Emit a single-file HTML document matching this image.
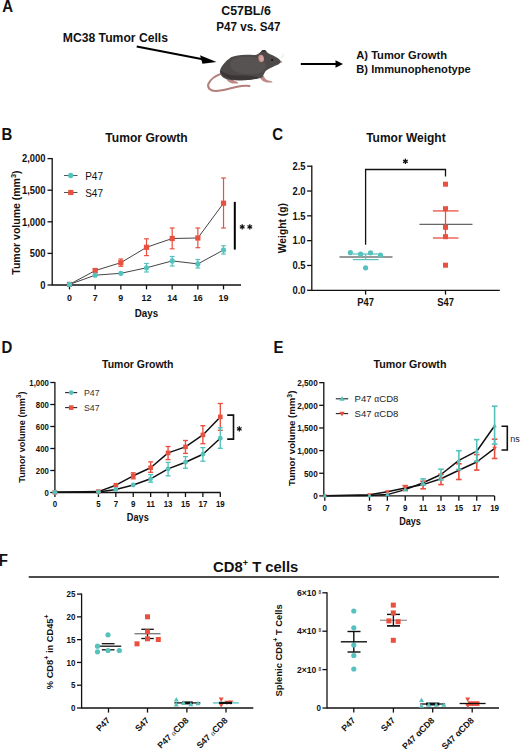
<!DOCTYPE html>
<html><head><meta charset="utf-8"><style>
html,body{margin:0;padding:0;background:#fff;overflow:hidden;width:520px;height:749px;}
svg{display:block;font-family:"Liberation Sans", sans-serif;}
text:not([font-weight]){font-weight:bold;}
text:not([fill]){fill:#111;}
line:not([stroke]){stroke:#111;}
line:not([stroke-width]){stroke-width:1.3;}
</style></head><body>
<svg width="520" height="749" viewBox="0 0 520 749">
<rect width="520" height="749" fill="#fff"/>
<text transform="translate(2.30,11.90) scale(1,1.1)" font-size="15">A</text>
<text x="62.80" y="42.30" font-size="12" textLength="105.2" lengthAdjust="spacingAndGlyphs">MC38 Tumor Cells</text>
<text x="221.20" y="15.40" font-size="12" textLength="49.6" lengthAdjust="spacingAndGlyphs">C57BL/6</text>
<text x="216.30" y="31.30" font-size="12" textLength="64.1" lengthAdjust="spacingAndGlyphs">P47 vs. S47</text>
<text x="356.30" y="58.70" font-size="10.5" textLength="90.7" lengthAdjust="spacingAndGlyphs">A) Tumor Growth</text>
<text x="356.30" y="73.00" font-size="10.5" textLength="114.5" lengthAdjust="spacingAndGlyphs">B) Immunophenotype</text>
<line x1="136.7" y1="46.5" x2="204" y2="59.5" stroke="#000" stroke-width="2.0"/>
<polygon points="216.5,62 200,55.2 202.5,63.8" fill="#000"/>
<line x1="300.8" y1="64" x2="337" y2="64" stroke="#000" stroke-width="2.0"/>
<polygon points="343,64 335.5,60.3 335.5,67.7" fill="#000"/>
<g>
<path d="M221.5,73.6 C216,75.5 210.5,79 208.3,84 C207.2,88 210.5,90.8 215.5,90.9 C222,91 230,88.3 236,87 C241,86 246,85.6 249.5,86" fill="none" stroke="#b47f79" stroke-width="2" stroke-linecap="round"/>
<path d="M225.5,77 C226.5,81 230,83.3 234,83.6 L238.3,83.6 C238.2,82.2 236.5,81.2 234.5,81 L232,78.5 Z" fill="#c08a84"/>
<path d="M259.5,76.5 C261,80.5 264,82.2 268,82.6 L272.6,82.6 C272.3,81.2 270.5,80.5 268.3,80.4 C265.8,80 264.3,78 263.8,75.8 Z" fill="#c08a84"/>
<path d="M219.8,71.5 C220.5,67 225,61.5 231,57.3 C236,55 243,54.2 254,55 C257,55.2 259,53.5 261,51.5 C262.5,49.6 265.5,49.6 266.4,51.6 C268,53.6 272,55 275,56.5 C278,58 280.5,60 281.3,62 C280,63.6 278,64.8 275.6,65.6 C272.5,67 268.5,69 266,70.8 C264.5,72.2 263.8,75 262.1,77.5 C258,79 252,79.6 245,80.2 C237,80.8 229,80.4 224.3,78.2 C221.6,76.7 220,74.3 219.8,71.5 Z" fill="#4d4949"/>
<path d="M261.2,51.6 C262.5,49.5 265.5,49.6 266.4,51.6 C265,52.4 263,52.6 261.2,51.6 Z" fill="#3a3636"/>
<path d="M232,60 C238,56.5 248,56 256,57.5 C262,58.8 266,62 266,66 C265.5,70 262,73 256,74 C249,74.8 240,74 234.5,71 C230,68 229,63 232,60 Z" fill="#575352"/>
<path d="M221,73 C224,77.5 230,79.6 238,80 C246,80.4 254,79.6 259,77.8 C255,76.2 249,75.5 241,75.6 C233,75.6 226,75 221,70.5 Z" fill="#3b3737"/>
<ellipse cx="261.2" cy="58.4" rx="2.8" ry="3.7" fill="#c88f8c" transform="rotate(-12 261.2 58.4)"/>
<ellipse cx="261.6" cy="58.6" rx="1.7" ry="2.6" fill="#d6a19e" transform="rotate(-12 261.6 58.6)"/>
<circle cx="272.1" cy="60" r="1" fill="#111"/>
<circle cx="281.3" cy="62" r="0.9" fill="#d99a98"/>
<path d="M280.5,58 L284,53.5 M281,58.5 L284.5,55.5" stroke="#ddd" stroke-width="0.5"/>
</g>
<text transform="translate(1.60,140.10) scale(1,1.1)" font-size="15">B</text>
<text transform="translate(146.50,141.90) scale(1,1.1)" font-size="12.1" text-anchor="middle">Tumor Growth</text>
<line x1="52.2" y1="158" x2="52.2" y2="285.6"/>
<line x1="47.5" y1="158.6" x2="52.2" y2="158.6"/>
<text transform="translate(45.50,162.32) scale(1,1.1)" font-size="9.4" text-anchor="end">2,000</text>
<line x1="47.5" y1="190.2" x2="52.2" y2="190.2"/>
<text transform="translate(45.50,193.92) scale(1,1.1)" font-size="9.4" text-anchor="end">1,500</text>
<line x1="47.5" y1="221.8" x2="52.2" y2="221.8"/>
<text transform="translate(45.50,225.52) scale(1,1.1)" font-size="9.4" text-anchor="end">1,000</text>
<line x1="47.5" y1="253.4" x2="52.2" y2="253.4"/>
<text transform="translate(45.50,257.12) scale(1,1.1)" font-size="9.4" text-anchor="end">500</text>
<line x1="47.5" y1="285" x2="52.2" y2="285"/>
<text transform="translate(45.50,288.72) scale(1,1.1)" font-size="9.4" text-anchor="end">0</text>
<line x1="52.2" y1="285" x2="241" y2="285"/>
<line x1="69.5" y1="285" x2="69.5" y2="289.4"/>
<text transform="translate(69.50,300.90) scale(1,1.1)" font-size="8.9" text-anchor="middle">0</text>
<line x1="95.17" y1="285" x2="95.17" y2="289.4"/>
<text transform="translate(95.17,300.90) scale(1,1.1)" font-size="8.9" text-anchor="middle">7</text>
<line x1="120.84" y1="285" x2="120.84" y2="289.4"/>
<text transform="translate(120.84,300.90) scale(1,1.1)" font-size="8.9" text-anchor="middle">9</text>
<line x1="146.51" y1="285" x2="146.51" y2="289.4"/>
<text transform="translate(146.51,300.90) scale(1,1.1)" font-size="8.9" text-anchor="middle">12</text>
<line x1="172.18" y1="285" x2="172.18" y2="289.4"/>
<text transform="translate(172.18,300.90) scale(1,1.1)" font-size="8.9" text-anchor="middle">14</text>
<line x1="197.85" y1="285" x2="197.85" y2="289.4"/>
<text transform="translate(197.85,300.90) scale(1,1.1)" font-size="8.9" text-anchor="middle">16</text>
<line x1="223.52" y1="285" x2="223.52" y2="289.4"/>
<text transform="translate(223.52,300.90) scale(1,1.1)" font-size="8.9" text-anchor="middle">19</text>
<text transform="translate(146.50,316.50) scale(1,1.1)" font-size="9.8" text-anchor="middle">Days</text>
<text transform="translate(20.2,222.6) rotate(-90)" font-size="10.5" font-weight="bold" text-anchor="middle" fill="#111">Tumor volume (mm<tspan font-size="7.4" dy="-4">3</tspan><tspan dy="4">)</tspan></text>
<line x1="64" y1="175.5" x2="77.5" y2="175.5" stroke="#555" stroke-width="1"/>
<circle cx="70.70" cy="175.50" r="2.65" fill="#55c2bd"/>
<line x1="64" y1="192.5" x2="77.5" y2="192.5" stroke="#555" stroke-width="1"/>
<rect x="68.20" y="189.90" width="5.2" height="5.2" fill="#e9503f"/>
<text transform="translate(85.20,179.50) scale(1,1.1)" font-size="10" font-weight="normal">P47</text>
<text transform="translate(85.20,196.50) scale(1,1.1)" font-size="10" font-weight="normal">S47</text>
<polyline points="69.50,284.40 95.17,270.60 120.84,262.70 146.51,247.30 172.18,238.50 197.85,238.00 223.52,203.20" fill="none" stroke="#444" stroke-width="1" stroke-linejoin="round"/>
<polyline points="69.50,284.40 95.17,275.20 120.84,273.30 146.51,267.80 172.18,260.90 197.85,263.90 223.52,250.00" fill="none" stroke="#444" stroke-width="1" stroke-linejoin="round"/>
<rect x="66.90" y="281.80" width="5.2" height="5.2" fill="#e9503f"/>
<line x1="95.17" y1="268.5" x2="95.17" y2="272.5" stroke="#e9503f" stroke-width="1.2"/>
<line x1="92.77" y1="268.5" x2="97.57" y2="268.5" stroke="#e9503f" stroke-width="1.2"/>
<line x1="92.77" y1="272.5" x2="97.57" y2="272.5" stroke="#e9503f" stroke-width="1.2"/>
<rect x="92.57" y="268.00" width="5.2" height="5.2" fill="#e9503f"/>
<line x1="120.84" y1="259" x2="120.84" y2="266.3" stroke="#e9503f" stroke-width="1.2"/>
<line x1="118.44" y1="259" x2="123.24" y2="259" stroke="#e9503f" stroke-width="1.2"/>
<line x1="118.44" y1="266.3" x2="123.24" y2="266.3" stroke="#e9503f" stroke-width="1.2"/>
<rect x="118.24" y="260.10" width="5.2" height="5.2" fill="#e9503f"/>
<line x1="146.51" y1="238.8" x2="146.51" y2="255.6" stroke="#e9503f" stroke-width="1.2"/>
<line x1="144.11" y1="238.8" x2="148.91" y2="238.8" stroke="#e9503f" stroke-width="1.2"/>
<line x1="144.11" y1="255.6" x2="148.91" y2="255.6" stroke="#e9503f" stroke-width="1.2"/>
<rect x="143.91" y="244.70" width="5.2" height="5.2" fill="#e9503f"/>
<line x1="172.18" y1="228" x2="172.18" y2="248.8" stroke="#e9503f" stroke-width="1.2"/>
<line x1="169.78" y1="228" x2="174.58" y2="228" stroke="#e9503f" stroke-width="1.2"/>
<line x1="169.78" y1="248.8" x2="174.58" y2="248.8" stroke="#e9503f" stroke-width="1.2"/>
<rect x="169.58" y="235.90" width="5.2" height="5.2" fill="#e9503f"/>
<line x1="197.85" y1="228" x2="197.85" y2="247.7" stroke="#e9503f" stroke-width="1.2"/>
<line x1="195.45" y1="228" x2="200.25" y2="228" stroke="#e9503f" stroke-width="1.2"/>
<line x1="195.45" y1="247.7" x2="200.25" y2="247.7" stroke="#e9503f" stroke-width="1.2"/>
<rect x="195.25" y="235.40" width="5.2" height="5.2" fill="#e9503f"/>
<line x1="223.52" y1="178" x2="223.52" y2="228" stroke="#e9503f" stroke-width="1.2"/>
<line x1="221.12" y1="178" x2="225.92" y2="178" stroke="#e9503f" stroke-width="1.2"/>
<line x1="221.12" y1="228" x2="225.92" y2="228" stroke="#e9503f" stroke-width="1.2"/>
<rect x="220.92" y="200.60" width="5.2" height="5.2" fill="#e9503f"/>
<circle cx="69.50" cy="284.40" r="2.6" fill="#55c2bd"/>
<circle cx="95.17" cy="275.20" r="2.6" fill="#55c2bd"/>
<circle cx="120.84" cy="273.30" r="2.6" fill="#55c2bd"/>
<line x1="146.51" y1="263.5" x2="146.51" y2="272" stroke="#55c2bd" stroke-width="1.2"/>
<line x1="144.11" y1="263.5" x2="148.91" y2="263.5" stroke="#55c2bd" stroke-width="1.2"/>
<line x1="144.11" y1="272" x2="148.91" y2="272" stroke="#55c2bd" stroke-width="1.2"/>
<circle cx="146.51" cy="267.80" r="2.6" fill="#55c2bd"/>
<line x1="172.18" y1="256.5" x2="172.18" y2="266" stroke="#55c2bd" stroke-width="1.2"/>
<line x1="169.78" y1="256.5" x2="174.58" y2="256.5" stroke="#55c2bd" stroke-width="1.2"/>
<line x1="169.78" y1="266" x2="174.58" y2="266" stroke="#55c2bd" stroke-width="1.2"/>
<circle cx="172.18" cy="260.90" r="2.6" fill="#55c2bd"/>
<line x1="197.85" y1="259.5" x2="197.85" y2="268" stroke="#55c2bd" stroke-width="1.2"/>
<line x1="195.45" y1="259.5" x2="200.25" y2="259.5" stroke="#55c2bd" stroke-width="1.2"/>
<line x1="195.45" y1="268" x2="200.25" y2="268" stroke="#55c2bd" stroke-width="1.2"/>
<circle cx="197.85" cy="263.90" r="2.6" fill="#55c2bd"/>
<line x1="223.52" y1="245.8" x2="223.52" y2="254" stroke="#55c2bd" stroke-width="1.2"/>
<line x1="221.12" y1="245.8" x2="225.92" y2="245.8" stroke="#55c2bd" stroke-width="1.2"/>
<line x1="221.12" y1="254" x2="225.92" y2="254" stroke="#55c2bd" stroke-width="1.2"/>
<circle cx="223.52" cy="250.00" r="2.6" fill="#55c2bd"/>
<line x1="234.8" y1="201.9" x2="234.8" y2="249.6" stroke="#000" stroke-width="2.0"/>
<line x1="242.2" y1="224.2" x2="242.2" y2="229.6"/>
<line x1="239.86" y1="225.55" x2="244.54" y2="228.25"/>
<line x1="244.54" y1="225.55" x2="239.86" y2="228.25"/>
<line x1="249.8" y1="224.2" x2="249.8" y2="229.6"/>
<line x1="247.46" y1="225.55" x2="252.14" y2="228.25"/>
<line x1="252.14" y1="225.55" x2="247.46" y2="228.25"/>
<text transform="translate(272.30,139.60) scale(1,1.1)" font-size="15">C</text>
<text transform="translate(405.90,141.90) scale(1,1.1)" font-size="12" text-anchor="middle">Tumor Weight</text>
<line x1="311.8" y1="165.6" x2="311.8" y2="290.9"/>
<line x1="307.1" y1="166.2" x2="311.8" y2="166.2"/>
<text transform="translate(305.50,169.92) scale(1,1.1)" font-size="9.4" text-anchor="end">2.5</text>
<line x1="307.1" y1="191.02" x2="311.8" y2="191.02"/>
<text transform="translate(305.50,194.74) scale(1,1.1)" font-size="9.4" text-anchor="end">2.0</text>
<line x1="307.1" y1="215.84" x2="311.8" y2="215.84"/>
<text transform="translate(305.50,219.56) scale(1,1.1)" font-size="9.4" text-anchor="end">1.5</text>
<line x1="307.1" y1="240.66" x2="311.8" y2="240.66"/>
<text transform="translate(305.50,244.38) scale(1,1.1)" font-size="9.4" text-anchor="end">1.0</text>
<line x1="307.1" y1="265.48" x2="311.8" y2="265.48"/>
<text transform="translate(305.50,269.20) scale(1,1.1)" font-size="9.4" text-anchor="end">0.5</text>
<line x1="307.1" y1="290.3" x2="311.8" y2="290.3"/>
<text transform="translate(305.50,294.02) scale(1,1.1)" font-size="9.4" text-anchor="end">0.0</text>
<line x1="311.8" y1="290.3" x2="499.8" y2="290.3"/>
<line x1="365.6" y1="290.3" x2="365.6" y2="294.6"/>
<text transform="translate(365.60,305.80) scale(1,1.1)" font-size="9.4" text-anchor="middle">P47</text>
<line x1="445.5" y1="290.3" x2="445.5" y2="294.6"/>
<text transform="translate(445.50,305.80) scale(1,1.1)" font-size="9.4" text-anchor="middle">S47</text>
<text transform="translate(286.1,228.1) rotate(-90)" font-size="10.3" font-weight="bold" text-anchor="middle" fill="#111">Weight (g)</text>
<polyline points="365.6,244.8 365.6,169.5 445.5,169.5 445.5,176.4" fill="none" stroke="#111" stroke-width="1.3"/>
<line x1="405.4" y1="158.6" x2="405.4" y2="164"/>
<line x1="403.06" y1="159.95" x2="407.74" y2="162.65"/>
<line x1="407.74" y1="159.95" x2="403.06" y2="162.65"/>
<line x1="339.5" y1="257" x2="392.5" y2="257" stroke="#777"/>
<line x1="353" y1="254" x2="378.5" y2="254" stroke="#55c2bd" stroke-width="1.2"/>
<line x1="353" y1="259.6" x2="378.5" y2="259.6" stroke="#55c2bd" stroke-width="1.2"/>
<line x1="365.6" y1="254" x2="365.6" y2="259.6" stroke="#55c2bd" stroke-width="1.2"/>
<circle cx="350.40" cy="252.70" r="2.6" fill="#55c2bd"/>
<circle cx="360.60" cy="254.20" r="2.6" fill="#55c2bd"/>
<circle cx="370.50" cy="252.90" r="2.6" fill="#55c2bd"/>
<circle cx="380.50" cy="255.20" r="2.6" fill="#55c2bd"/>
<circle cx="365.60" cy="267.80" r="2.6" fill="#55c2bd"/>
<line x1="419.4" y1="224.3" x2="472.5" y2="224.3" stroke="#666"/>
<line x1="432.9" y1="210.9" x2="458.5" y2="210.9" stroke="#e9503f"/>
<line x1="432.9" y1="238" x2="458.5" y2="238" stroke="#e9503f"/>
<line x1="445.5" y1="210.9" x2="445.5" y2="238" stroke="#e9503f"/>
<rect x="443.00" y="181.70" width="5" height="5" fill="#e9503f"/>
<rect x="443.00" y="206.20" width="5" height="5" fill="#e9503f"/>
<rect x="443.00" y="224.80" width="5" height="5" fill="#e9503f"/>
<rect x="443.00" y="234.20" width="5" height="5" fill="#e9503f"/>
<rect x="443.00" y="262.70" width="5" height="5" fill="#e9503f"/>
<text transform="translate(1.60,353.00) scale(1,1.1)" font-size="15">D</text>
<text transform="translate(137.80,368.00) scale(1,1.1)" font-size="10.5" text-anchor="middle">Tumor Growth</text>
<line x1="54.9" y1="381.9" x2="54.9" y2="493.1"/>
<line x1="50.3" y1="382.5" x2="54.9" y2="382.5"/>
<text transform="translate(48.80,385.59) scale(1,1.1)" font-size="7.8" text-anchor="end">1,000</text>
<line x1="50.3" y1="404.5" x2="54.9" y2="404.5"/>
<text transform="translate(48.80,407.59) scale(1,1.1)" font-size="7.8" text-anchor="end">800</text>
<line x1="50.3" y1="426.5" x2="54.9" y2="426.5"/>
<text transform="translate(48.80,429.59) scale(1,1.1)" font-size="7.8" text-anchor="end">600</text>
<line x1="50.3" y1="448.5" x2="54.9" y2="448.5"/>
<text transform="translate(48.80,451.59) scale(1,1.1)" font-size="7.8" text-anchor="end">400</text>
<line x1="50.3" y1="470.5" x2="54.9" y2="470.5"/>
<text transform="translate(48.80,473.59) scale(1,1.1)" font-size="7.8" text-anchor="end">200</text>
<line x1="50.3" y1="492.5" x2="54.9" y2="492.5"/>
<text transform="translate(48.80,495.59) scale(1,1.1)" font-size="7.8" text-anchor="end">0</text>
<line x1="54.9" y1="492.5" x2="220.5" y2="492.5"/>
<line x1="54.9" y1="492.5" x2="54.9" y2="497"/>
<text transform="translate(54.90,506.70) scale(1,1.1)" font-size="7.9" text-anchor="middle">0</text>
<line x1="98.42" y1="492.5" x2="98.42" y2="497"/>
<text transform="translate(98.42,506.70) scale(1,1.1)" font-size="7.9" text-anchor="middle">5</text>
<line x1="115.84" y1="492.5" x2="115.84" y2="497"/>
<text transform="translate(115.84,506.70) scale(1,1.1)" font-size="7.9" text-anchor="middle">7</text>
<line x1="133.25" y1="492.5" x2="133.25" y2="497"/>
<text transform="translate(133.25,506.70) scale(1,1.1)" font-size="7.9" text-anchor="middle">9</text>
<line x1="150.66" y1="492.5" x2="150.66" y2="497"/>
<text transform="translate(150.66,506.70) scale(1,1.1)" font-size="7.9" text-anchor="middle">11</text>
<line x1="168.06" y1="492.5" x2="168.06" y2="497"/>
<text transform="translate(168.06,506.70) scale(1,1.1)" font-size="7.9" text-anchor="middle">13</text>
<line x1="185.47" y1="492.5" x2="185.47" y2="497"/>
<text transform="translate(185.47,506.70) scale(1,1.1)" font-size="7.9" text-anchor="middle">15</text>
<line x1="202.89" y1="492.5" x2="202.89" y2="497"/>
<text transform="translate(202.89,506.70) scale(1,1.1)" font-size="7.9" text-anchor="middle">17</text>
<line x1="220.3" y1="492.5" x2="220.3" y2="497"/>
<text transform="translate(220.30,506.70) scale(1,1.1)" font-size="7.9" text-anchor="middle">19</text>
<text transform="translate(137.80,520.80) scale(1,1.1)" font-size="9.2" text-anchor="middle">Days</text>
<text transform="translate(25.0,437.1) rotate(-90)" font-size="9.2" font-weight="bold" text-anchor="middle" fill="#111">Tumor volume (mm<tspan font-size="6.6" dy="-3.6">3</tspan><tspan dy="3.6">)</tspan></text>
<line x1="65.1" y1="392.6" x2="77.2" y2="392.6" stroke="#222" stroke-width="1.1"/>
<circle cx="71.20" cy="392.60" r="2.4" fill="#55c2bd"/>
<line x1="65.1" y1="407.6" x2="77.2" y2="407.6" stroke="#222" stroke-width="1.1"/>
<rect x="68.90" y="405.30" width="4.6" height="4.6" fill="#e9503f"/>
<text transform="translate(83.90,395.80) scale(1,1.1)" font-size="8.8" font-weight="normal" fill="#333">P47</text>
<text transform="translate(83.90,410.80) scale(1,1.1)" font-size="8.8" font-weight="normal" fill="#333">S47</text>
<polyline points="54.90,492.30 98.42,491.60 115.84,485.20 133.25,475.80 150.66,467.70 168.06,452.90 185.47,446.90 202.89,434.90 220.30,416.90" fill="none" stroke="#111" stroke-width="1.5" stroke-linejoin="round"/>
<polyline points="54.90,492.30 98.42,492.00 115.84,489.40 133.25,485.00 150.66,478.80 168.06,468.90 185.47,462.20 202.89,454.30 220.30,438.20" fill="none" stroke="#111" stroke-width="1.5" stroke-linejoin="round"/>
<rect x="52.60" y="490.00" width="4.6" height="4.6" fill="#e9503f"/>
<rect x="96.12" y="489.30" width="4.6" height="4.6" fill="#e9503f"/>
<rect x="113.54" y="482.90" width="4.6" height="4.6" fill="#e9503f"/>
<line x1="133.25" y1="472.8" x2="133.25" y2="478.8" stroke="#e9503f" stroke-width="1.35"/>
<line x1="130.75" y1="472.8" x2="135.75" y2="472.8" stroke="#e9503f" stroke-width="1.35"/>
<line x1="130.75" y1="478.8" x2="135.75" y2="478.8" stroke="#e9503f" stroke-width="1.35"/>
<rect x="130.94" y="473.50" width="4.6" height="4.6" fill="#e9503f"/>
<line x1="150.66" y1="461.9" x2="150.66" y2="472.3" stroke="#e9503f" stroke-width="1.35"/>
<line x1="148.16" y1="461.9" x2="153.16" y2="461.9" stroke="#e9503f" stroke-width="1.35"/>
<line x1="148.16" y1="472.3" x2="153.16" y2="472.3" stroke="#e9503f" stroke-width="1.35"/>
<rect x="148.35" y="465.40" width="4.6" height="4.6" fill="#e9503f"/>
<line x1="168.06" y1="446.5" x2="168.06" y2="459.6" stroke="#e9503f" stroke-width="1.35"/>
<line x1="165.56" y1="446.5" x2="170.56" y2="446.5" stroke="#e9503f" stroke-width="1.35"/>
<line x1="165.56" y1="459.6" x2="170.56" y2="459.6" stroke="#e9503f" stroke-width="1.35"/>
<rect x="165.76" y="450.60" width="4.6" height="4.6" fill="#e9503f"/>
<line x1="185.47" y1="440.5" x2="185.47" y2="453.4" stroke="#e9503f" stroke-width="1.35"/>
<line x1="182.97" y1="440.5" x2="187.97" y2="440.5" stroke="#e9503f" stroke-width="1.35"/>
<line x1="182.97" y1="453.4" x2="187.97" y2="453.4" stroke="#e9503f" stroke-width="1.35"/>
<rect x="183.17" y="444.60" width="4.6" height="4.6" fill="#e9503f"/>
<line x1="202.89" y1="425.7" x2="202.89" y2="443.7" stroke="#e9503f" stroke-width="1.35"/>
<line x1="200.39" y1="425.7" x2="205.39" y2="425.7" stroke="#e9503f" stroke-width="1.35"/>
<line x1="200.39" y1="443.7" x2="205.39" y2="443.7" stroke="#e9503f" stroke-width="1.35"/>
<rect x="200.59" y="432.60" width="4.6" height="4.6" fill="#e9503f"/>
<line x1="220.3" y1="403.5" x2="220.3" y2="430.3" stroke="#e9503f" stroke-width="1.35"/>
<line x1="217.8" y1="403.5" x2="222.8" y2="403.5" stroke="#e9503f" stroke-width="1.35"/>
<line x1="217.8" y1="430.3" x2="222.8" y2="430.3" stroke="#e9503f" stroke-width="1.35"/>
<rect x="218.00" y="414.60" width="4.6" height="4.6" fill="#e9503f"/>
<circle cx="54.90" cy="492.30" r="2.4" fill="#55c2bd"/>
<circle cx="98.42" cy="492.00" r="2.4" fill="#55c2bd"/>
<circle cx="115.84" cy="489.40" r="2.4" fill="#55c2bd"/>
<circle cx="133.25" cy="485.00" r="2.4" fill="#55c2bd"/>
<line x1="150.66" y1="474.6" x2="150.66" y2="482.2" stroke="#55c2bd" stroke-width="1.35"/>
<line x1="148.16" y1="474.6" x2="153.16" y2="474.6" stroke="#55c2bd" stroke-width="1.35"/>
<line x1="148.16" y1="482.2" x2="153.16" y2="482.2" stroke="#55c2bd" stroke-width="1.35"/>
<circle cx="150.66" cy="478.80" r="2.4" fill="#55c2bd"/>
<line x1="168.06" y1="462.4" x2="168.06" y2="475.8" stroke="#55c2bd" stroke-width="1.35"/>
<line x1="165.56" y1="462.4" x2="170.56" y2="462.4" stroke="#55c2bd" stroke-width="1.35"/>
<line x1="165.56" y1="475.8" x2="170.56" y2="475.8" stroke="#55c2bd" stroke-width="1.35"/>
<circle cx="168.06" cy="468.90" r="2.4" fill="#55c2bd"/>
<line x1="185.47" y1="456.6" x2="185.47" y2="468.2" stroke="#55c2bd" stroke-width="1.35"/>
<line x1="182.97" y1="456.6" x2="187.97" y2="456.6" stroke="#55c2bd" stroke-width="1.35"/>
<line x1="182.97" y1="468.2" x2="187.97" y2="468.2" stroke="#55c2bd" stroke-width="1.35"/>
<circle cx="185.47" cy="462.20" r="2.4" fill="#55c2bd"/>
<line x1="202.89" y1="447.6" x2="202.89" y2="461.2" stroke="#55c2bd" stroke-width="1.35"/>
<line x1="200.39" y1="447.6" x2="205.39" y2="447.6" stroke="#55c2bd" stroke-width="1.35"/>
<line x1="200.39" y1="461.2" x2="205.39" y2="461.2" stroke="#55c2bd" stroke-width="1.35"/>
<circle cx="202.89" cy="454.30" r="2.4" fill="#55c2bd"/>
<line x1="220.3" y1="427.8" x2="220.3" y2="448.3" stroke="#55c2bd" stroke-width="1.35"/>
<line x1="217.8" y1="427.8" x2="222.8" y2="427.8" stroke="#55c2bd" stroke-width="1.35"/>
<line x1="217.8" y1="448.3" x2="222.8" y2="448.3" stroke="#55c2bd" stroke-width="1.35"/>
<circle cx="220.30" cy="438.20" r="2.4" fill="#55c2bd"/>
<polyline points="227.2,415.1 233.5,415.1 233.5,439.1 227.2,439.1" fill="none" stroke="#111" stroke-width="1.6"/>
<line x1="239.3" y1="426.2" x2="239.3" y2="431.6"/>
<line x1="236.96" y1="427.55" x2="241.64" y2="430.25"/>
<line x1="241.64" y1="427.55" x2="236.96" y2="430.25"/>
<text transform="translate(273.60,352.60) scale(1,1.1)" font-size="15">E</text>
<text transform="translate(410.00,368.00) scale(1,1.1)" font-size="10.7" text-anchor="middle">Tumor Growth</text>
<line x1="323.8" y1="382.05" x2="323.8" y2="496.5"/>
<line x1="319.2" y1="382.65" x2="323.8" y2="382.65"/>
<text transform="translate(317.70,385.90) scale(1,1.1)" font-size="8.2" text-anchor="end">2,500</text>
<line x1="319.2" y1="405.3" x2="323.8" y2="405.3"/>
<text transform="translate(317.70,408.55) scale(1,1.1)" font-size="8.2" text-anchor="end">2,000</text>
<line x1="319.2" y1="427.95" x2="323.8" y2="427.95"/>
<text transform="translate(317.70,431.20) scale(1,1.1)" font-size="8.2" text-anchor="end">1,500</text>
<line x1="319.2" y1="450.6" x2="323.8" y2="450.6"/>
<text transform="translate(317.70,453.85) scale(1,1.1)" font-size="8.2" text-anchor="end">1,000</text>
<line x1="319.2" y1="473.25" x2="323.8" y2="473.25"/>
<text transform="translate(317.70,476.50) scale(1,1.1)" font-size="8.2" text-anchor="end">500</text>
<line x1="319.2" y1="495.9" x2="323.8" y2="495.9"/>
<text transform="translate(317.70,499.15) scale(1,1.1)" font-size="8.2" text-anchor="end">0</text>
<line x1="323.8" y1="495.9" x2="494.6" y2="495.9"/>
<line x1="324.8" y1="495.9" x2="324.8" y2="500.7"/>
<text transform="translate(324.80,510.80) scale(1,1.1)" font-size="8" text-anchor="middle">0</text>
<line x1="369.49" y1="495.9" x2="369.49" y2="500.7"/>
<text transform="translate(369.49,510.80) scale(1,1.1)" font-size="8" text-anchor="middle">5</text>
<line x1="387.36" y1="495.9" x2="387.36" y2="500.7"/>
<text transform="translate(387.36,510.80) scale(1,1.1)" font-size="8" text-anchor="middle">7</text>
<line x1="405.23" y1="495.9" x2="405.23" y2="500.7"/>
<text transform="translate(405.23,510.80) scale(1,1.1)" font-size="8" text-anchor="middle">9</text>
<line x1="423.11" y1="495.9" x2="423.11" y2="500.7"/>
<text transform="translate(423.11,510.80) scale(1,1.1)" font-size="8" text-anchor="middle">11</text>
<line x1="440.98" y1="495.9" x2="440.98" y2="500.7"/>
<text transform="translate(440.98,510.80) scale(1,1.1)" font-size="8" text-anchor="middle">13</text>
<line x1="458.86" y1="495.9" x2="458.86" y2="500.7"/>
<text transform="translate(458.86,510.80) scale(1,1.1)" font-size="8" text-anchor="middle">15</text>
<line x1="476.73" y1="495.9" x2="476.73" y2="500.7"/>
<text transform="translate(476.73,510.80) scale(1,1.1)" font-size="8" text-anchor="middle">17</text>
<line x1="494.6" y1="495.9" x2="494.6" y2="500.7"/>
<text transform="translate(494.60,510.80) scale(1,1.1)" font-size="8" text-anchor="middle">19</text>
<text transform="translate(410.00,524.90) scale(1,1.1)" font-size="9.1" text-anchor="middle">Days</text>
<text transform="translate(295.3,438.3) rotate(-90)" font-size="9.6" font-weight="bold" text-anchor="middle" fill="#111">Tumor volume (mm<tspan font-size="6.8" dy="-3.7">3</tspan><tspan dy="3.7">)</tspan></text>
<line x1="335.8" y1="398.8" x2="348.2" y2="398.8" stroke="#222" stroke-width="1.1"/>
<polygon points="342.00,395.99 339.40,400.67 344.60,400.67" fill="#55c2bd"/>
<line x1="335.8" y1="413.6" x2="348.2" y2="413.6" stroke="#222" stroke-width="1.1"/>
<polygon points="342.00,416.41 339.40,411.73 344.60,411.73" fill="#e9503f"/>
<text transform="translate(354.60,401.90) scale(1,1.1)" font-size="9.0" font-weight="normal" fill="#222" textLength="43.8" lengthAdjust="spacingAndGlyphs">P47 <tspan font-family="Liberation Serif">α</tspan>CD8</text>
<text transform="translate(354.60,417.20) scale(1,1.1)" font-size="9.0" font-weight="normal" fill="#222" textLength="43.8" lengthAdjust="spacingAndGlyphs">S47 <tspan font-family="Liberation Serif">α</tspan>CD8</text>
<polyline points="324.80,495.80 369.49,495.50 387.36,494.60 405.23,489.60 423.11,482.80 440.98,474.50 458.86,460.40 476.73,451.20 494.60,425.80" fill="none" stroke="#111" stroke-width="1.5" stroke-linejoin="round"/>
<polyline points="324.80,495.80 369.49,494.80 387.36,491.80 405.23,488.00 423.11,484.60 440.98,478.80 458.86,470.30 476.73,462.00 494.60,448.40" fill="none" stroke="#111" stroke-width="1.5" stroke-linejoin="round"/>
<polygon points="324.80,498.28 322.50,494.14 327.10,494.14" fill="#e9503f"/>
<polygon points="369.49,497.28 367.19,493.14 371.79,493.14" fill="#e9503f"/>
<polygon points="387.36,494.28 385.06,490.14 389.66,490.14" fill="#e9503f"/>
<line x1="405.23" y1="485.6" x2="405.23" y2="490.5" stroke="#e9503f" stroke-width="1.6"/>
<line x1="402.43" y1="485.6" x2="408.03" y2="485.6" stroke="#e9503f" stroke-width="1.6"/>
<line x1="402.43" y1="490.5" x2="408.03" y2="490.5" stroke="#e9503f" stroke-width="1.6"/>
<polygon points="405.23,490.48 402.93,486.34 407.53,486.34" fill="#e9503f"/>
<line x1="423.11" y1="481.2" x2="423.11" y2="488.8" stroke="#e9503f" stroke-width="1.6"/>
<line x1="420.31" y1="481.2" x2="425.91" y2="481.2" stroke="#e9503f" stroke-width="1.6"/>
<line x1="420.31" y1="488.8" x2="425.91" y2="488.8" stroke="#e9503f" stroke-width="1.6"/>
<polygon points="423.11,487.08 420.81,482.94 425.41,482.94" fill="#e9503f"/>
<line x1="440.98" y1="474.2" x2="440.98" y2="484.6" stroke="#e9503f" stroke-width="1.6"/>
<line x1="438.18" y1="474.2" x2="443.78" y2="474.2" stroke="#e9503f" stroke-width="1.6"/>
<line x1="438.18" y1="484.6" x2="443.78" y2="484.6" stroke="#e9503f" stroke-width="1.6"/>
<polygon points="440.98,481.28 438.68,477.14 443.28,477.14" fill="#e9503f"/>
<line x1="458.86" y1="463.8" x2="458.86" y2="479.5" stroke="#e9503f" stroke-width="1.6"/>
<line x1="456.06" y1="463.8" x2="461.66" y2="463.8" stroke="#e9503f" stroke-width="1.6"/>
<line x1="456.06" y1="479.5" x2="461.66" y2="479.5" stroke="#e9503f" stroke-width="1.6"/>
<polygon points="458.86,472.78 456.56,468.64 461.16,468.64" fill="#e9503f"/>
<line x1="476.73" y1="454.6" x2="476.73" y2="470.1" stroke="#e9503f" stroke-width="1.6"/>
<line x1="473.93" y1="454.6" x2="479.53" y2="454.6" stroke="#e9503f" stroke-width="1.6"/>
<line x1="473.93" y1="470.1" x2="479.53" y2="470.1" stroke="#e9503f" stroke-width="1.6"/>
<polygon points="476.73,464.48 474.43,460.34 479.03,460.34" fill="#e9503f"/>
<line x1="494.6" y1="439.2" x2="494.6" y2="458.5" stroke="#e9503f" stroke-width="1.6"/>
<line x1="491.8" y1="439.2" x2="497.4" y2="439.2" stroke="#e9503f" stroke-width="1.6"/>
<line x1="491.8" y1="458.5" x2="497.4" y2="458.5" stroke="#e9503f" stroke-width="1.6"/>
<polygon points="494.60,450.88 492.30,446.74 496.90,446.74" fill="#e9503f"/>
<polygon points="324.80,493.32 322.50,497.46 327.10,497.46" fill="#55c2bd"/>
<polygon points="369.49,493.02 367.19,497.16 371.79,497.16" fill="#55c2bd"/>
<polygon points="387.36,492.12 385.06,496.26 389.66,496.26" fill="#55c2bd"/>
<polygon points="405.23,487.12 402.93,491.26 407.53,491.26" fill="#55c2bd"/>
<line x1="423.11" y1="478.9" x2="423.11" y2="485" stroke="#55c2bd" stroke-width="1.6"/>
<line x1="420.31" y1="478.9" x2="425.91" y2="478.9" stroke="#55c2bd" stroke-width="1.6"/>
<line x1="420.31" y1="485" x2="425.91" y2="485" stroke="#55c2bd" stroke-width="1.6"/>
<polygon points="423.11,480.32 420.81,484.46 425.41,484.46" fill="#55c2bd"/>
<line x1="440.98" y1="469.2" x2="440.98" y2="480" stroke="#55c2bd" stroke-width="1.6"/>
<line x1="438.18" y1="469.2" x2="443.78" y2="469.2" stroke="#55c2bd" stroke-width="1.6"/>
<line x1="438.18" y1="480" x2="443.78" y2="480" stroke="#55c2bd" stroke-width="1.6"/>
<polygon points="440.98,472.02 438.68,476.16 443.28,476.16" fill="#55c2bd"/>
<line x1="458.86" y1="450.7" x2="458.86" y2="469.6" stroke="#55c2bd" stroke-width="1.6"/>
<line x1="456.06" y1="450.7" x2="461.66" y2="450.7" stroke="#55c2bd" stroke-width="1.6"/>
<line x1="456.06" y1="469.6" x2="461.66" y2="469.6" stroke="#55c2bd" stroke-width="1.6"/>
<polygon points="458.86,457.92 456.56,462.06 461.16,462.06" fill="#55c2bd"/>
<line x1="476.73" y1="439.6" x2="476.73" y2="461.5" stroke="#55c2bd" stroke-width="1.6"/>
<line x1="473.93" y1="439.6" x2="479.53" y2="439.6" stroke="#55c2bd" stroke-width="1.6"/>
<line x1="473.93" y1="461.5" x2="479.53" y2="461.5" stroke="#55c2bd" stroke-width="1.6"/>
<polygon points="476.73,448.72 474.43,452.86 479.03,452.86" fill="#55c2bd"/>
<line x1="494.6" y1="406.2" x2="494.6" y2="444.2" stroke="#55c2bd" stroke-width="1.6"/>
<line x1="491.8" y1="406.2" x2="497.4" y2="406.2" stroke="#55c2bd" stroke-width="1.6"/>
<line x1="491.8" y1="444.2" x2="497.4" y2="444.2" stroke="#55c2bd" stroke-width="1.6"/>
<polygon points="494.60,423.32 492.30,427.46 496.90,427.46" fill="#55c2bd"/>
<polyline points="501.5,426.2 507.3,426.2 507.3,450 501.5,450" fill="none" stroke="#111" stroke-width="1.6"/>
<text transform="translate(510.30,441.80) scale(1,1.1)" font-size="9" font-weight="normal" fill="#222">ns</text>
<text transform="translate(-1.30,565.60) scale(1,1.1)" font-size="15">F</text>
<line x1="28.7" y1="577" x2="499" y2="577" stroke-width="1.5"/>
<text transform="translate(213.10,571.50) scale(1,1.1)" font-size="13.2" textLength="85.2" lengthAdjust="spacingAndGlyphs">CD8<tspan font-size="8" dy="-5">+</tspan><tspan dy="5"> T cells</tspan></text>
<line x1="81.6" y1="593.5" x2="81.6" y2="708.6"/>
<line x1="77" y1="594.1" x2="81.6" y2="594.1"/>
<text transform="translate(75.50,597.27) scale(1,1.1)" font-size="8" text-anchor="end">25</text>
<line x1="77" y1="616.88" x2="81.6" y2="616.88"/>
<text transform="translate(75.50,620.05) scale(1,1.1)" font-size="8" text-anchor="end">20</text>
<line x1="77" y1="639.66" x2="81.6" y2="639.66"/>
<text transform="translate(75.50,642.83) scale(1,1.1)" font-size="8" text-anchor="end">15</text>
<line x1="77" y1="662.44" x2="81.6" y2="662.44"/>
<text transform="translate(75.50,665.61) scale(1,1.1)" font-size="8" text-anchor="end">10</text>
<line x1="77" y1="685.22" x2="81.6" y2="685.22"/>
<text transform="translate(75.50,688.39) scale(1,1.1)" font-size="8" text-anchor="end">5</text>
<line x1="77" y1="708" x2="81.6" y2="708"/>
<text transform="translate(75.50,711.17) scale(1,1.1)" font-size="8" text-anchor="end">0</text>
<line x1="81.6" y1="708" x2="253.3" y2="708"/>
<line x1="108.5" y1="708" x2="108.5" y2="712.6"/>
<text transform="translate(110.7,721.0) rotate(-45)" font-size="8.8" font-weight="bold" text-anchor="end" fill="#111">P47</text>
<line x1="147.5" y1="708" x2="147.5" y2="712.6"/>
<text transform="translate(149.7,721.0) rotate(-45)" font-size="8.8" font-weight="bold" text-anchor="end" fill="#111">S47</text>
<line x1="186.9" y1="708" x2="186.9" y2="712.6"/>
<text transform="translate(189.1,721.0) rotate(-45)" font-size="8.8" font-weight="bold" text-anchor="end" fill="#111">P47 <tspan font-family="Liberation Serif" font-weight="normal" font-size="7.5">α</tspan>CD8</text>
<line x1="226" y1="708" x2="226" y2="712.6"/>
<text transform="translate(228.2,721.0) rotate(-45)" font-size="8.8" font-weight="bold" text-anchor="end" fill="#111">S47 <tspan font-family="Liberation Serif" font-weight="normal" font-size="7.5">α</tspan>CD8</text>
<text transform="translate(53,651.8) rotate(-90)" font-size="9.3" font-weight="bold" text-anchor="middle" fill="#111">% CD8<tspan font-size="7" dy="-3.8">+</tspan><tspan dy="3.8"> in CD45</tspan><tspan font-size="7" dy="-3.8">+</tspan></text>
<line x1="99.5" y1="646.2" x2="121.2" y2="646.2"/>
<line x1="101.8" y1="643.7" x2="114.5" y2="643.7"/>
<line x1="101.8" y1="649.8" x2="114.5" y2="649.8"/>
<circle cx="97.50" cy="646.20" r="2.6" fill="#55c2bd"/>
<circle cx="108.00" cy="634.80" r="2.6" fill="#55c2bd"/>
<circle cx="97.50" cy="651.80" r="2.6" fill="#55c2bd"/>
<circle cx="108.00" cy="650.50" r="2.6" fill="#55c2bd"/>
<circle cx="119.30" cy="650.50" r="2.6" fill="#55c2bd"/>
<line x1="134.5" y1="633.7" x2="160.5" y2="633.7" stroke="#777"/>
<line x1="141.3" y1="629.3" x2="153.8" y2="629.3"/>
<line x1="141.3" y1="638.5" x2="153.8" y2="638.5"/>
<line x1="147.5" y1="629.3" x2="147.5" y2="638.5"/>
<rect x="145.00" y="614.30" width="5" height="5" fill="#e9503f"/>
<rect x="145.00" y="629.30" width="5" height="5" fill="#e9503f"/>
<rect x="134.50" y="641.30" width="5" height="5" fill="#e9503f"/>
<rect x="145.00" y="636.30" width="5" height="5" fill="#e9503f"/>
<rect x="155.80" y="637.00" width="5" height="5" fill="#e9503f"/>
<line x1="174.4" y1="702.9" x2="200.4" y2="702.9"/>
<line x1="182" y1="702.9" x2="192.7" y2="702.9" stroke-width="3"/>
<polygon points="176.30,696.90 173.80,701.40 178.80,701.40" fill="#55c2bd"/>
<polygon points="176.30,701.90 173.80,706.40 178.80,706.40" fill="#55c2bd"/>
<polygon points="183.50,700.30 181.00,704.80 186.00,704.80" fill="#55c2bd"/>
<polygon points="190.80,701.70 188.30,706.20 193.30,706.20" fill="#55c2bd"/>
<polygon points="198.00,700.80 195.50,705.30 200.50,705.30" fill="#55c2bd"/>
<polygon points="221.20,702.10 218.70,697.60 223.70,697.60" fill="#e9503f"/>
<polygon points="221.20,707.70 218.70,703.20 223.70,703.20" fill="#e9503f"/>
<polygon points="230.80,705.00 228.30,700.50 233.30,700.50" fill="#e9503f"/>
<polygon points="227.00,705.30 224.50,700.80 229.50,700.80" fill="#e9503f"/>
<line x1="212.9" y1="702.9" x2="238.8" y2="702.9" stroke="#55c2bd"/>
<line x1="219" y1="702.9" x2="232" y2="702.9" stroke-width="2.2"/>
<line x1="327" y1="592.2" x2="327" y2="708.6"/>
<line x1="322.4" y1="592.8" x2="327" y2="592.8"/>
<line x1="322.4" y1="631.2" x2="327" y2="631.2"/>
<line x1="322.4" y1="669.6" x2="327" y2="669.6"/>
<line x1="322.4" y1="708" x2="327" y2="708"/>
<text transform="translate(320.90,711.17) scale(1,1.1)" font-size="8" text-anchor="end">0</text>
<text transform="translate(316.40,595.70) scale(1,1.1)" font-size="8.6" text-anchor="end">6×10</text>
<text transform="translate(319.70,593.70) scale(1,1.1)" font-size="4.6" text-anchor="middle" fill="#444">8</text>
<text transform="translate(316.40,634.10) scale(1,1.1)" font-size="8.6" text-anchor="end">4×10</text>
<text transform="translate(319.70,632.10) scale(1,1.1)" font-size="4.6" text-anchor="middle" fill="#444">8</text>
<text transform="translate(316.40,672.50) scale(1,1.1)" font-size="8.6" text-anchor="end">2×10</text>
<text transform="translate(319.70,670.50) scale(1,1.1)" font-size="4.6" text-anchor="middle" fill="#444">8</text>
<line x1="327" y1="708" x2="499" y2="708"/>
<line x1="353.8" y1="708" x2="353.8" y2="712.6"/>
<text transform="translate(356.0,721.0) rotate(-45)" font-size="8.8" font-weight="bold" text-anchor="end" fill="#111">P47</text>
<line x1="393.4" y1="708" x2="393.4" y2="712.6"/>
<text transform="translate(395.59999999999997,721.0) rotate(-45)" font-size="8.8" font-weight="bold" text-anchor="end" fill="#111">S47</text>
<line x1="432.7" y1="708" x2="432.7" y2="712.6"/>
<text transform="translate(434.9,721.0) rotate(-45)" font-size="8.8" font-weight="bold" text-anchor="end" fill="#111">P47 αCD8</text>
<line x1="472.2" y1="708" x2="472.2" y2="712.6"/>
<text transform="translate(474.4,721.0) rotate(-45)" font-size="8.8" font-weight="bold" text-anchor="end" fill="#111">S47 αCD8</text>
<text transform="translate(281.5,650.4) rotate(-90)" font-size="9.4" font-weight="bold" text-anchor="middle" fill="#111">Splenic CD8<tspan font-size="7" dy="-3.8">+</tspan><tspan dy="3.8"> T Cells</tspan></text>
<line x1="340.8" y1="641.8" x2="367" y2="641.8" stroke-width="1.4"/>
<line x1="347.5" y1="631.5" x2="360.5" y2="631.5" stroke-width="1.4"/>
<line x1="347.5" y1="652" x2="360.5" y2="652" stroke-width="1.4"/>
<line x1="353.8" y1="631.5" x2="353.8" y2="652" stroke-width="1.4"/>
<circle cx="353.80" cy="611.00" r="2.6" fill="#55c2bd"/>
<circle cx="353.80" cy="627.80" r="2.6" fill="#55c2bd"/>
<circle cx="353.80" cy="645.00" r="2.6" fill="#55c2bd"/>
<circle cx="353.80" cy="655.50" r="2.6" fill="#55c2bd"/>
<circle cx="353.80" cy="669.00" r="2.6" fill="#55c2bd"/>
<line x1="380" y1="620.3" x2="407" y2="620.3" stroke="#999"/>
<line x1="387" y1="614.4" x2="400" y2="614.4" stroke-width="1.4"/>
<line x1="387" y1="625.9" x2="400" y2="625.9" stroke-width="1.7"/>
<line x1="393.4" y1="614.4" x2="393.4" y2="625.9" stroke-width="1.4"/>
<rect x="390.80" y="602.60" width="5" height="5" fill="#e9503f"/>
<rect x="390.80" y="610.40" width="5" height="5" fill="#e9503f"/>
<rect x="386.40" y="618.40" width="5" height="5" fill="#e9503f"/>
<rect x="395.60" y="619.20" width="5" height="5" fill="#e9503f"/>
<rect x="390.80" y="637.80" width="5" height="5" fill="#e9503f"/>
<line x1="420.2" y1="704" x2="445.2" y2="704"/>
<line x1="426" y1="704" x2="439.4" y2="704" stroke-width="3"/>
<polygon points="421.50,697.50 419.00,702.00 424.00,702.00" fill="#55c2bd"/>
<polygon points="421.50,703.30 419.00,707.80 424.00,707.80" fill="#55c2bd"/>
<polygon points="428.80,702.30 426.30,706.80 431.30,706.80" fill="#55c2bd"/>
<polygon points="436.20,702.30 433.70,706.80 438.70,706.80" fill="#55c2bd"/>
<polygon points="443.80,702.30 441.30,706.80 446.30,706.80" fill="#55c2bd"/>
<rect x="468" y="701.3" width="11.5" height="4.6" fill="#e9503f"/>
<polygon points="467.70,702.00 465.20,697.50 470.20,697.50" fill="#e9503f"/>
<polygon points="467.70,708.20 465.20,703.70 470.20,703.70" fill="#e9503f"/>
<polygon points="476.90,706.30 474.40,701.80 479.40,701.80" fill="#e9503f"/>
<polygon points="472.50,706.30 470.00,701.80 475.00,701.80" fill="#e9503f"/>
<line x1="459.6" y1="703.5" x2="485.6" y2="703.5"/>
</svg></body></html>
